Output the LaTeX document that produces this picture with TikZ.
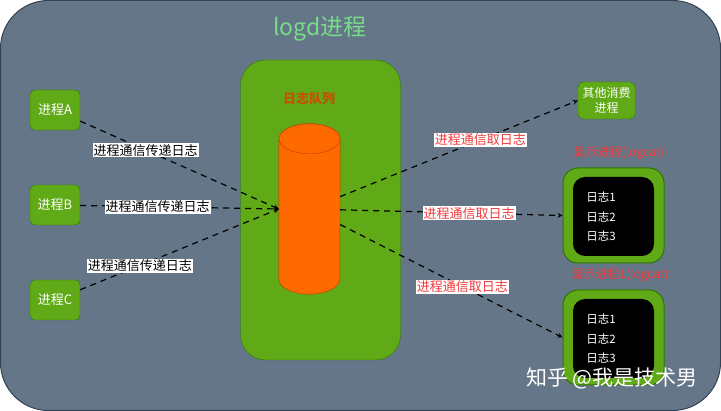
\documentclass[tikz,border=0pt]{standalone}
\usepackage{fontspec}
\setmainfont{Noto Sans CJK SC}
\usepackage{tikz}
\usetikzlibrary{shapes.geometric, arrows}
\definecolor{slatefill}{HTML}{647687}
\definecolor{slateline}{HTML}{314354}
\definecolor{greenfill}{HTML}{60A917}
\definecolor{greenline}{HTML}{2D7600}
\definecolor{orangefill}{HTML}{FF6A00}
\definecolor{orangeline}{HTML}{C73500}
\definecolor{titlegreen}{HTML}{77DD88}
\definecolor{queuetext}{HTML}{C75000}
\definecolor{fetchred}{HTML}{F03A3A}
\tikzstyle{process} = [rectangle, rounded corners=5pt, minimum width=50pt, minimum height=40pt, text centered, draw=greenline, fill=greenfill, text=white, font=\fontsize{13}{15}\selectfont]
\tikzstyle{queuebox} = [rectangle, rounded corners=25pt, minimum width=160pt, minimum height=300pt, draw=greenline, fill=greenfill]
\tikzstyle{store} = [rectangle, minimum width=61pt, minimum height=170pt, inner sep=0pt]
\tikzstyle{storebody} = [draw=orangeline, fill=orangefill]
\tikzstyle{consumer} = [rectangle, rounded corners=15pt, minimum width=101pt, minimum height=95pt, line width=1pt, draw=greenline, fill=greenfill]
\tikzstyle{screen} = [rectangle, rounded corners=12pt, minimum width=81pt, minimum height=79pt, fill=black]
\tikzstyle{logtext} = [align=center, text=white, font=\fontsize{11.5}{19.5}\selectfont]
\tikzstyle{sendlabel} = [fill=white, inner sep=1pt, text=black, font=\fontsize{13}{15}\selectfont]
\tikzstyle{fetchlabel} = [fill=white, inner sep=1pt, text=fetchred, font=\fontsize{13}{15}\selectfont]
\tikzstyle{showlabel} = [text=fetchred, font=\fontsize{12}{14}\selectfont]
\tikzstyle{arrow} = [line width=1.2pt, ->, >=stealth, dash pattern=on 6pt off 5pt]
\begin{document}
\begin{tikzpicture}[x=1pt, y=-1pt, node distance=95pt]
    \useasboundingbox (0,0) rectangle (721,411);
    \draw [fill=slatefill, draw=slateline, line width=1pt, rounded corners=48pt] (0.5,0.5) rectangle (720.5,410.5);

    \node (title) [text=titlegreen, font=\fontsize{23}{26}\selectfont] at (320,29) {logd进程};
    \node (queue) [queuebox] at (320.5,210) {};
    \node (queuetitle) [text=queuetext, font=\bfseries\fontsize{13}{15}\selectfont] at (309,99) {日志队列};

    % log buffer cylinder
    \node (logs) [store] at (309.5,209) {};
    \draw [storebody] (logs.north west) ++(0,15) -- ([yshift=15pt]logs.south west)
        arc [start angle=180, end angle=0, x radius=30.5, y radius=15]
        -- ([yshift=-15pt]logs.north east)
        arc [start angle=0, end angle=-180, x radius=30.5, y radius=15] -- cycle;
    \draw [storebody] ([yshift=-15pt]logs.north) ellipse [x radius=30.5, y radius=15];

    \node (procA) [process] at (55,110) {进程A};
    \node (procB) [process, below of=procA] {进程B};
    \node (procC) [process, below of=procB] {进程C};

    \node (other) [process, minimum width=57pt, minimum height=37pt, align=center, font=\fontsize{12}{15}\selectfont] at (606.5,100.5) {其他消费\\进程};
    \node (show1) [consumer] at (613.5,215.5) {};
    \node (screen1) [screen] at (613.5,216.5) {};
    \node (list1) [logtext] at (601,217) {日志1\\日志2\\日志3};
    \node (show2) [consumer] at (613.5,337.5) {};
    \node (screen2) [screen] at (613.5,338.5) {};
    \node (list2) [logtext] at (601,339) {日志1\\日志2\\日志3};
    \node (showtitle1) [showlabel] at (619,153) {显示进程(logcat)};
    \node (showtitle2) [showlabel] at (620,275) {显示进程1(logcat)};

    \draw [arrow] (procA) -- node [sendlabel, pos=0.33] {进程通信传递日志} (logs.west);
    \draw [arrow] (procB) -- node [sendlabel, pos=0.39] {进程通信传递日志} (logs.west);
    \draw [arrow] (procC) -- node [sendlabel, pos=0.30] {进程通信传递日志} (logs.west);
    \draw [arrow] (logs) -- node [fetchlabel, pos=0.59] {进程通信取日志} (other.west);
    \draw [arrow] (logs) -- node [fetchlabel, pos=0.58] {进程通信取日志} (show1.west);
    \draw [arrow] (logs) -- node [fetchlabel, pos=0.55] {进程通信取日志} (show2.west);

    \node (mark) [text=white, font=\fontsize{21}{24}\selectfont] at (612,378) {知乎 @我是技术男};

\end{tikzpicture}
\end{document}
